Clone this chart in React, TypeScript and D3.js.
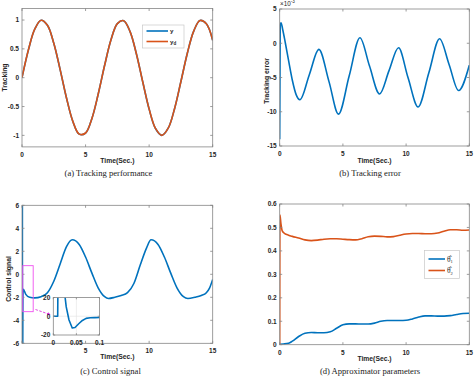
import React from 'react';
import * as d3 from 'd3';

const W = 474;
const H = 376;
const BLUE = '#0072BD';
const ORANGE = '#D95319';
const AXIS = '#858585';
const TXT = '#262626';
const SANS = '"Liberation Sans", Arial, sans-serif';
const SERIF = '"Liberation Serif", "Times New Roman", serif';

// ---------- (a) Tracking performance ----------
const trackT = [0, 0.5, 1, 1.5, 2, 2.5, 3, 3.5, 4, 4.5, 5, 5.5, 6, 6.5, 7, 7.5, 8, 8.5, 9, 9.5, 10, 10.5, 11, 11.5, 12, 12.5, 13, 13.5, 14, 14.5, 15];
const trackYd = [0, 0.479, 0.841, 0.997, 0.909, 0.598, 0.141, -0.351, -0.757, -0.978, -0.959, -0.706, -0.279, 0.215, 0.657, 0.938, 0.989, 0.799, 0.412, -0.075, -0.544, -0.880, -1.0, -0.876, -0.537, -0.066, 0.420, 0.804, 0.991, 0.935, 0.650];
const trackY = [0, 0.478, 0.840, 0.996, 0.908, 0.597, 0.140, -0.352, -0.758, -0.979, -0.960, -0.706, -0.279, 0.215, 0.657, 0.938, 0.989, 0.799, 0.412, -0.075, -0.545, -0.881, -1.0, -0.876, -0.537, -0.066, 0.420, 0.804, 0.991, 0.935, 0.650];
const aYTicks = [-1, -0.5, 0, 0.5, 1];

// ---------- (b) Tracking error (x1e-3) ----------
const errT = [0, 0.04, 0.1, 0.25, 0.45, 0.7, 1.0, 1.3, 1.6, 2.35, 3.1, 3.9, 4.65, 5.5, 6.35, 7.1, 7.9, 8.65, 9.4, 10.15, 10.95, 11.8, 12.65, 13.4, 14.15, 15];
const errV = [-14, 2.6, 3.0, 1.9, 0, -2.5, -5.4, -7.5, -8.25, -4.55, -0.9, -5.6, -10.35, -4.75, 0.8, -3.3, -7.4, -4.0, -0.65, -5.0, -9.3, -4.3, 0.65, -3.1, -6.9, -3.2];
const bYTicks = [-15, -10, -5, 0, 5];

// ---------- (c) Control signal ----------
const ctrlT = [0, 0.0095, 0.0105, 0.022, 0.028, 0.034, 0.041, 0.047, 0.055, 0.063, 0.071, 0.08, 0.09, 0.1, 0.3, 0.6, 1.0, 1.5, 2.0, 2.5, 3.0, 3.5, 3.95, 4.5, 5.0, 5.5, 6.0, 6.5, 6.8, 7.3, 7.8, 8.3, 8.8, 9.3, 9.8, 10.15, 10.7, 11.2, 11.7, 12.2, 12.7, 13.05, 13.6, 14.1, 14.5, 14.75, 15];
const ctrlU = [0, 0, 60, 35, 10, -4, -12.5, -12, -8, -4.5, -2.3, -1.6, -1.5, -1.3, -1.75, -2.0, -2.05, -1.95, -1.6, -0.6, 0.9, 2.4, 3.0, 2.6, 1.5, 0.1, -1.2, -1.95, -2.1, -2.0, -1.85, -1.6, -0.8, 0.8, 2.3, 3.0, 2.6, 1.5, 0.1, -1.2, -1.95, -2.1, -2.0, -1.85, -1.6, -1.2, -0.45];
const cYTicks = [-6, -4, -2, 0, 2, 4, 6];
const insetXTicks = [0, 0.05, 0.1];
const insetXLabels = ['0', '0.05', '0.1'];
const insetYTicks = [-20, 0, 20];

// ---------- (d) Approximator parameters ----------
const th1T = [0, 0.3, 0.7, 1.0, 1.5, 2.0, 2.5, 3.0, 3.5, 4.0, 4.5, 5.0, 5.5, 6.0, 6.5, 7.0, 7.5, 8.0, 8.5, 9.0, 9.5, 10.0, 10.5, 11.0, 11.5, 12.0, 12.5, 13.0, 13.5, 14.0, 14.5, 15];
const th1V = [0.002, 0.003, 0.006, 0.015, 0.035, 0.049, 0.052, 0.051, 0.051, 0.055, 0.07, 0.085, 0.089, 0.089, 0.088, 0.088, 0.092, 0.1, 0.103, 0.103, 0.103, 0.104, 0.11, 0.118, 0.123, 0.123, 0.122, 0.122, 0.124, 0.129, 0.133, 0.134];
const th2T = [0, 0.02, 0.1, 0.2, 0.4, 0.7, 1.0, 1.5, 2.0, 2.5, 3.0, 3.5, 4.0, 4.5, 5.0, 5.5, 6.0, 6.5, 7.0, 7.5, 8.0, 8.5, 9.0, 9.5, 10.0, 10.5, 11.0, 11.5, 12.0, 12.5, 13.0, 13.5, 14.0, 14.5, 15.0];
const th2V = [0, 0.553, 0.515, 0.485, 0.474, 0.467, 0.462, 0.455, 0.447, 0.444, 0.446, 0.45, 0.452, 0.452, 0.45, 0.448, 0.447, 0.452, 0.46, 0.463, 0.462, 0.46, 0.461, 0.467, 0.472, 0.474, 0.474, 0.473, 0.473, 0.476, 0.484, 0.49, 0.49, 0.488, 0.489];
const dYTicks = [0, 0.1, 0.2, 0.3, 0.4, 0.5, 0.6];

const xTicks = [0, 5, 10, 15];

type Series = { t: number[]; v: number[]; color: string; curve?: d3.CurveFactory };

type PanelProps = {
  id: string;
  left: number; right: number; top: number; bottom: number;
  xDom: [number, number]; yDom: [number, number];
  xT: number[]; xL: (string | null)[];
  yT: number[]; yFmt: (v: number) => string;
  series: Series[];
  tickLen?: number;
  fontSize?: number;
  xLabel?: string;
  grid?: boolean;
  bg?: string;
  xLabelDy?: number;
  children?: React.ReactNode;
};

function Panel(p: PanelProps) {
  const x = d3.scaleLinear().domain(p.xDom).range([p.left, p.right]);
  const y = d3.scaleLinear().domain(p.yDom).range([p.bottom, p.top]);
  const tl = p.tickLen ?? 2.5;
  const fs = p.fontSize ?? 6.5;
  return (
    <g>
      <defs>
        <clipPath id={p.id}>
          <rect x={p.left} y={p.top} width={p.right - p.left} height={p.bottom - p.top} />
        </clipPath>
      </defs>
      {p.bg && <rect x={p.left} y={p.top} width={p.right - p.left} height={p.bottom - p.top} fill={p.bg} />}
      {p.grid && (
        <g stroke="#e3e3e3" strokeWidth={0.6}>
          {p.xT.slice(1, -1).map((t, i) => (
            <line key={'gx' + i} x1={x(t)} x2={x(t)} y1={p.top} y2={p.bottom} />
          ))}
          {p.yT.slice(1, -1).map((t, i) => (
            <line key={'gy' + i} x1={p.left} x2={p.right} y1={y(t)} y2={y(t)} />
          ))}
        </g>
      )}
      <g clipPath={`url(#${p.id})`}>
        {p.series.map((s, i) => {
          const pts: [number, number][] = s.t.map((t, k) => [t, s.v[k]]);
          const gen = d3
            .line<[number, number]>()
            .x((d) => x(d[0]))
            .y((d) => y(d[1]))
            .curve(s.curve ?? d3.curveMonotoneX);
          return <path key={i} d={gen(pts) || ''} fill="none" stroke={s.color} strokeWidth={1.6} strokeLinejoin="round" />;
        })}
      </g>
      <g stroke={AXIS} strokeWidth={0.8} fill="none">
        <rect x={p.left} y={p.top} width={p.right - p.left} height={p.bottom - p.top} />
        {p.xT.map((t, i) => (
          <g key={'xt' + i}>
            <line x1={x(t)} x2={x(t)} y1={p.bottom} y2={p.bottom - tl} />
            <line x1={x(t)} x2={x(t)} y1={p.top} y2={p.top + tl} />
          </g>
        ))}
        {p.yT.map((t, i) => (
          <g key={'yt' + i}>
            <line x1={p.left} x2={p.left + tl} y1={y(t)} y2={y(t)} />
            <line x1={p.right} x2={p.right - tl} y1={y(t)} y2={y(t)} />
          </g>
        ))}
      </g>
      <g fontFamily={SANS} fontWeight="bold" fontSize={fs} fill={TXT}>
        {p.xT.map((t, i) =>
          p.xL[i] === null ? null : (
            <text key={'xl' + i} x={x(t)} y={p.bottom + 10} textAnchor="middle">
              {p.xL[i]}
            </text>
          )
        )}
        {p.yT.map((t, i) => (
          <text key={'yl' + i} x={p.left - 3} y={y(t) + fs * 0.35} textAnchor="end">
            {p.yFmt(t)}
          </text>
        ))}
        {p.xLabel && (
          <text x={(p.left + p.right) / 2} y={p.bottom + (p.xLabelDy ?? 16.5)} textAnchor="middle" fontSize={6.8}>
            {p.xLabel}
          </text>
        )}
      </g>
      {p.children}
    </g>
  );
}

const fmt = (v: number) => String(v);

export default function App() {
  const cx = d3.scaleLinear().domain([0, 15]).range([22, 212.7]);
  const cy = d3.scaleLinear().domain([-6, 6]).range([343.3, 205.3]);
  return (
    <svg width={W} height={H} style={{ position: 'absolute', left: 0, top: 0, background: '#fff' }}>
      <rect x={0} y={0} width={W} height={H} fill="#fff" />
      {/* (a) */}
      <Panel
        id="clipA"
        left={22} right={212.7} top={8.5} bottom={146.9}
        xDom={[0, 15]} yDom={[-1.2, 1.2]}
        xT={xTicks} xL={xTicks.map(String)}
        yT={aYTicks} yFmt={fmt}
        xLabel="Time(Sec.)"
        series={[
          { t: trackT, v: trackY, color: BLUE, curve: d3.curveCatmullRom },
          { t: trackT, v: trackYd, color: ORANGE, curve: d3.curveCatmullRom },
        ]}
      >
        <text x={6.5} y={77.5} transform="rotate(-90 6.5 77.5)" textAnchor="middle" fontFamily={SANS} fontWeight="bold" fontSize={6.8} fill={TXT}>
          Tracking
        </text>
        <rect x={142.5} y={25} width={41.5} height={23} fill="#fff" stroke="#c8c8c8" strokeWidth={0.7} />
        <line x1={146.5} x2={168} y1={31} y2={31} stroke={BLUE} strokeWidth={1.6} />
        <line x1={146.5} x2={168} y1={41.5} y2={41.5} stroke={ORANGE} strokeWidth={1.6} />
        <g fontFamily={SANS} fontWeight="bold" fontSize={6.2} fill={TXT}>
          <text x={170} y={33}>y</text>
          <text x={170} y={43.5}>
            y<tspan fontSize={4.5} dy={1.5}>d</tspan>
          </text>
        </g>
      </Panel>

      {/* (b) */}
      <Panel
        id="clipB"
        left={279.7} right={469.3} top={9} bottom={146}
        xDom={[0, 15]} yDom={[-15, 5]}
        xT={xTicks} xL={xTicks.map(String)}
        yT={bYTicks} yFmt={fmt}
        xLabel="Time(Sec.)"
        series={[{ t: errT, v: errV, color: BLUE }]}
      >
        <text x={266} y={81} transform="rotate(-90 266 81)" textAnchor="middle" dominantBaseline="central" fontFamily={SANS} fontWeight="bold" fontSize={6.8} fill={TXT}>
          Tracking error
        </text>
        <text x={280} y={5.5} fontFamily={SANS} fontSize={6.3} fill={TXT}>
          ×10<tspan fontSize={4.6} dy={-2.5}>-3</tspan>
        </text>
      </Panel>

      {/* (c) */}
      <Panel
        id="clipC"
        left={22} right={212.7} top={205.3} bottom={343.3}
        xDom={[0, 15]} yDom={[-6, 6]}
        xT={xTicks} xL={[null, '5', '10', '15']}
        yT={cYTicks} yFmt={fmt}
        xLabel="Time(Sec.)"
        xLabelDy={16}
        series={[{ t: ctrlT, v: ctrlU, color: BLUE }]}
      >
        <text x={8} y={279} transform="rotate(-90 8 279)" textAnchor="middle" dominantBaseline="central" fontFamily={SANS} fontWeight="bold" fontSize={6.8} fill={TXT}>
          Control signal
        </text>
      </Panel>
      {/* zoom box + arrow */}
      <rect x={cx(0.06)} y={cy(0.75)} width={cx(0.88) - cx(0.06)} height={cy(-3.25) - cy(0.75)} fill="none" stroke="#f050f0" strokeWidth={0.9} />
      <defs>
        <marker id="arr" viewBox="0 0 6 6" refX={5} refY={3} markerWidth={4} markerHeight={4} orient="auto">
          <path d="M0,0 L6,3 L0,6 z" fill="#e030e0" />
        </marker>
      </defs>
      <line x1={35.5} y1={309.5} x2={50} y2={314.5} stroke="#e030e0" strokeWidth={0.9} strokeDasharray="2.5,1.5" markerEnd="url(#arr)" />
      <Panel
        id="clipInset"
        left={53.3} right={99.5} top={297.5} bottom={335}
        xDom={[0, 0.1]} yDom={[-20, 20]}
        xT={insetXTicks} xL={insetXLabels}
        yT={insetYTicks} yFmt={fmt}
        tickLen={1.8}
        grid
        bg="#fff"
        series={[{ t: ctrlT, v: ctrlU, color: BLUE, curve: d3.curveLinear }]}
      />

      {/* (d) */}
      <Panel
        id="clipD"
        left={279.7} right={469.3} top={204} bottom={344.7}
        xDom={[0, 15]} yDom={[0, 0.6]}
        xT={xTicks} xL={xTicks.map(String)}
        yT={dYTicks} yFmt={(v) => (v === 0 ? '0' : v.toFixed(1))}
        xLabel="Time(Sec.)"
        series={[
          { t: th1T, v: th1V, color: BLUE },
          { t: th2T, v: th2V, color: ORANGE },
        ]}
      >
        <rect x={424.5} y={250.5} width={35} height={28} fill="#fff" stroke="#c8c8c8" strokeWidth={0.7} />
        <line x1={428.5} x2={445} y1={259} y2={259} stroke={BLUE} strokeWidth={1.6} />
        <line x1={428.5} x2={445} y1={270.5} y2={270.5} stroke={ORANGE} strokeWidth={1.6} />
        <g fontFamily={SERIF} fontSize={7.5} fill={TXT}>
          <text x={447} y={261.5}>
            θ̂<tspan fontSize={4.5} dy={1.5}>1</tspan>
          </text>
          <text x={447} y={273}>
            θ̂<tspan fontSize={4.5} dy={1.5}>2</tspan>
          </text>
        </g>
      </Panel>

      {/* captions */}
      <g fontFamily={SERIF} fontSize={8.6} fill="#1a1a1a" textAnchor="middle">
        <text x={108.5} y={176}>(a) Tracking performance</text>
        <text x={370} y={176}>(b) Tracking error</text>
        <text x={110.5} y={373.5}>(c) Control signal</text>
        <text x={370} y={373.5}>(d) Approximator parameters</text>
      </g>
    </svg>
  );
}
